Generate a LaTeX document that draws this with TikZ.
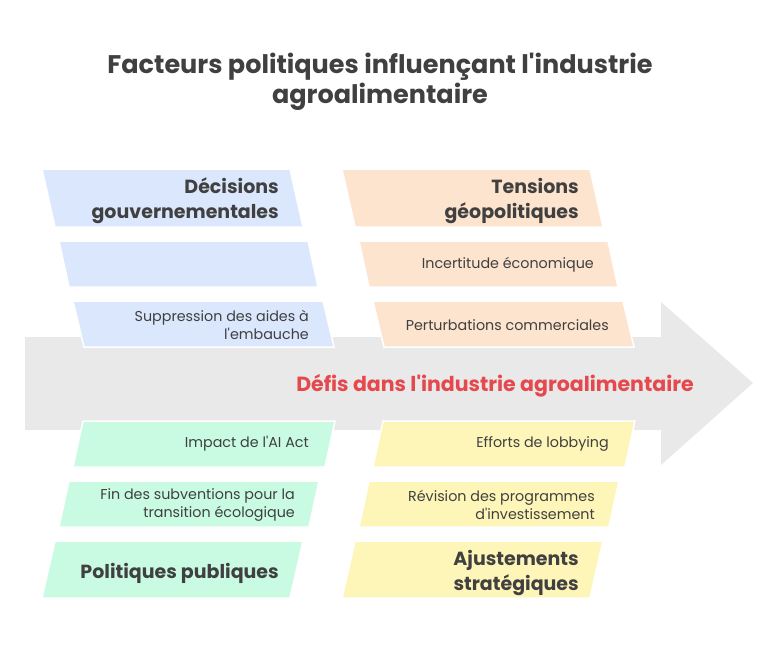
\documentclass[tikz,border=0pt]{standalone}
\usepackage{fontspec}
\setmainfont{Poppins}
\definecolor{inkgray}{HTML}{404040}
\definecolor{defired}{HTML}{E5484D}
\definecolor{arrowgray}{HTML}{E9E9E9}
\definecolor{govblue}{HTML}{DBE7FD}
\definecolor{geoorange}{HTML}{FDE4CE}
\definecolor{pubgreen}{HTML}{C9FBE3}
\definecolor{adjyellow}{HTML}{FEF6B9}
\def\q{\textquotesingle}
% slanted slab: fill, top-left corner, width, height, shift of the bottom edge
\def\slab#1#2#3#4#5{\fill[#1,draw=white,line width=1.5pt] #2 -- ++(#3,0) -- ++(#5,#4) -- ++(-#3,0) -- cycle;}

\begin{document}
\begin{tikzpicture}[x=1pt,y=-1pt,
  title/.style={text=inkgray,align=center,font=\fontsize{25.5}{30}\selectfont\bfseries},
  head/.style={anchor=east,inner xsep=0pt,text=inkgray,align=right,font=\fontsize{19}{25}\selectfont\bfseries},
  item/.style={anchor=east,inner xsep=0pt,text=inkgray,align=right,font=\fontsize{14.3}{18}\selectfont},
  spine/.style={text=defired,font=\fontsize{20.5}{24}\selectfont\bfseries}]
  \fill[white] (0,0) rectangle (780,648);
  \useasboundingbox (0,0) rectangle (780,648);
  \draw (380,82) node[title] (title) {Facteurs politiques influençant l\q industrie\\agroalimentaire};
  % the spine arrow
  \fill[arrowgray] (25,337) -- (661,337) -- (661,302) -- (753,383) -- (661,465) -- (661,430) -- (25,430) -- cycle;
  \draw (495,386) node[spine] (defis) {Défis dans l\q industrie agroalimentaire};
  % upper left
  \slab{govblue}{(42,169)}{248}{58}{13}
  \slab{govblue}{(59,241)}{249}{46}{10}
  \slab{govblue}{(73,301)}{250}{46}{11}
  \draw (279,201) node[head] (gov) {Décisions\\gouvernementales};
  \draw (309,325) node[item] (aides) {Suppression des aides à\\l\q embauche};
  % upper right
  \slab{geoorange}{(342,169)}{248}{58}{13}
  \slab{geoorange}{(359,241)}{249}{46}{10}
  \slab{geoorange}{(373,301)}{250}{46}{11}
  \draw (579,201) node[head] (geo) {Tensions\\géopolitiques};
  \draw (594,265) node[item] (incert) {Incertitude économique};
  \draw (609,325) node[item] (perturb) {Perturbations commerciales};
  % lower left
  \slab{pubgreen}{(83,421)}{252}{46}{-10}
  \slab{pubgreen}{(69,481)}{250}{46}{-10}
  \slab{pubgreen}{(55,541)}{248}{57}{-13}
  \draw (309,444) node[item] (aiact) {Impact de l\q AI Act};
  \draw (295,505) node[item] (subv) {Fin des subventions pour la\\transition écologique};
  \draw (279,573) node[head] (pub) {Politiques publiques};
  % lower right
  \slab{adjyellow}{(383,421)}{252}{46}{-10}
  \slab{adjyellow}{(369,481)}{250}{46}{-10}
  \slab{adjyellow}{(355,541)}{248}{57}{-13}
  \draw (609,444) node[item] (lobby) {Efforts de lobbying};
  \draw (595,505) node[item] (invest) {Révision des programmes\\d\q investissement};
  \draw (579,573) node[head] (ajust) {Ajustements\\stratégiques};
\end{tikzpicture}
\end{document}
